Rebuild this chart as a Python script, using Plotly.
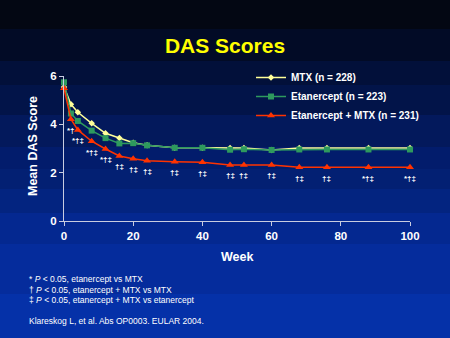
import plotly.graph_objects as go

weeks = [0, 2, 4, 8, 12, 16, 20, 24, 32, 40, 48, 52, 60, 68, 76, 88, 100]
mtx = [5.55, 4.83, 4.50, 4.04, 3.63, 3.43, 3.24, 3.13, 3.03, 3.03, 3.02, 3.02, 2.94, 3.02, 3.02, 3.02, 3.02]
etan = [5.74, 4.45, 4.14, 3.74, 3.43, 3.21, 3.22, 3.13, 3.03, 3.03, 2.95, 2.97, 2.94, 2.96, 2.96, 2.96, 2.96]
combo = [5.49, 4.21, 3.77, 3.30, 2.98, 2.69, 2.58, 2.49, 2.45, 2.43, 2.32, 2.32, 2.32, 2.22, 2.22, 2.22, 2.22]
sig = ["", "*†", "*†‡", "*†‡", "*†‡", "†‡", "†‡", "†‡", "†‡", "†‡", "†‡", "†‡", "†‡", "†‡", "†‡", "*†‡", "*†‡"]
names = ["MTX (n = 228)", "Etanercept (n = 223)", "Etanercept + MTX (n = 231)"]
footnotes = ["* <i>P</i> < 0.05, etanercept vs MTX",
             "† <i>P</i> < 0.05, etanercept + MTX vs MTX",
             "‡ <i>P</i> < 0.05, etanercept + MTX vs etanercept"]
citation = "Klareskog L, et al. Abs OP0003. EULAR 2004."

FONT = "Liberation Sans, Arial, sans-serif"
W, H = 450, 338
ML, MR, MT, MB = 64, 40, 76, 117
PH = H - MT - MB
PW = W - ML - MR

def py2paper(py):
    return (H - MB - py) / PH

def px2paper(px):
    return (px - ML) / PW

fig = go.Figure()
fig.add_trace(go.Scatter(x=weeks, y=mtx, name=names[0], mode="lines+markers",
                         line=dict(color="#ffff99", width=1.5),
                         marker=dict(symbol="diamond", size=5, color="#ffff99"),
                         cliponaxis=False))
fig.add_trace(go.Scatter(x=weeks, y=etan, name=names[1], mode="lines+markers",
                         line=dict(color="#2e9a5e", width=1.5),
                         marker=dict(symbol="square", size=6, color="#2e9a5e"),
                         cliponaxis=False))
fig.add_trace(go.Scatter(x=weeks, y=combo, name=names[2], mode="lines+markers",
                         line=dict(color="#ff3300", width=1.5),
                         marker=dict(symbol="triangle-up", size=7, color="#ff3300"),
                         cliponaxis=False))

# background bands
bands = [(0, 29, "#030713"), (29, 61, "#020b26"), (61, 85, "#02103a"), (85, 115, "#021449"),
         (115, 147, "#03195c"), (147, 169, "#021c6c"), (169, 189, "#032073"), (189, 213, "#032480"),
         (213, 244, "#042890"), (244, 294, "#052c9c"), (294, 338, "#0531a8")]
for y0, y1, c in bands:
    fig.add_shape(type="rect", xref="paper", yref="paper", layer="below",
                  x0=px2paper(0), x1=px2paper(W), y0=py2paper(y1), y1=py2paper(y0),
                  fillcolor=c, line=dict(width=0))

anns = []
for w, v, s in zip(weeks, combo, sig):
    if s:
        anns.append(dict(x=w, y=v, xref="x", yref="y", text=s, showarrow=False,
                         yshift=-11, font=dict(family=FONT, size=8, color="white", weight="bold")))
for i, t in enumerate(footnotes):
    anns.append(dict(x=px2paper(27), y=py2paper(279 + i * 10.5), xref="paper", yref="paper",
                     xanchor="left", yanchor="middle", text=t, showarrow=False,
                     font=dict(family=FONT, size=8.5, color="white")))
anns.append(dict(x=px2paper(27), y=py2paper(321), xref="paper", yref="paper",
                 xanchor="left", yanchor="middle", text=citation, showarrow=False,
                 font=dict(family=FONT, size=8.5, color="white")))
anns.append(dict(x=px2paper(33), y=py2paper(146), xref="paper", yref="paper",
                 xanchor="center", yanchor="middle",
                 textangle=-90, text="Mean DAS Score", showarrow=False,
                 font=dict(family=FONT, size=12.5, color="white", weight="bold")))
anns.append(dict(x=px2paper(237), y=py2paper(257), xref="paper", yref="paper",
                 xanchor="center", yanchor="middle",
                 text="Week", showarrow=False,
                 font=dict(family=FONT, size=12.5, color="white", weight="bold")))

fig.update_layout(
    width=W, height=H,
    margin=dict(l=ML, r=MR, t=MT, b=MB),
    paper_bgcolor="#02103a", plot_bgcolor="rgba(0,0,0,0)",
    title=dict(text="DAS Scores", x=0.5, xanchor="center", y=1 - 46 / H, yanchor="middle",
               font=dict(family=FONT, size=21, color="#ffff00", weight="bold")),
    xaxis=dict(range=[0, 100], tickvals=[0, 20, 40, 60, 80, 100], showgrid=False, zeroline=False,
               showline=True, linecolor="#c8cce0", linewidth=1, ticks="outside", ticklen=4,
               tickcolor="#c8cce0",
               tickfont=dict(family=FONT, size=11.5, color="white", weight="bold")),
    yaxis=dict(range=[0, 6], tickvals=[0, 2, 4, 6], showgrid=False, zeroline=False,
               showline=True, linecolor="#c8cce0", linewidth=1, ticks="outside", ticklen=4,
               tickcolor="#c8cce0",
               tickfont=dict(family=FONT, size=11.5, color="white", weight="bold")),
    legend=dict(x=px2paper(251), y=py2paper(63), xanchor="left", yanchor="top",
                bgcolor="rgba(0,0,0,0)", itemwidth=30, tracegroupgap=0,
                font=dict(family=FONT, size=10, color="white", weight="bold")),
    annotations=anns,
)

fig.write_html("out.html")
